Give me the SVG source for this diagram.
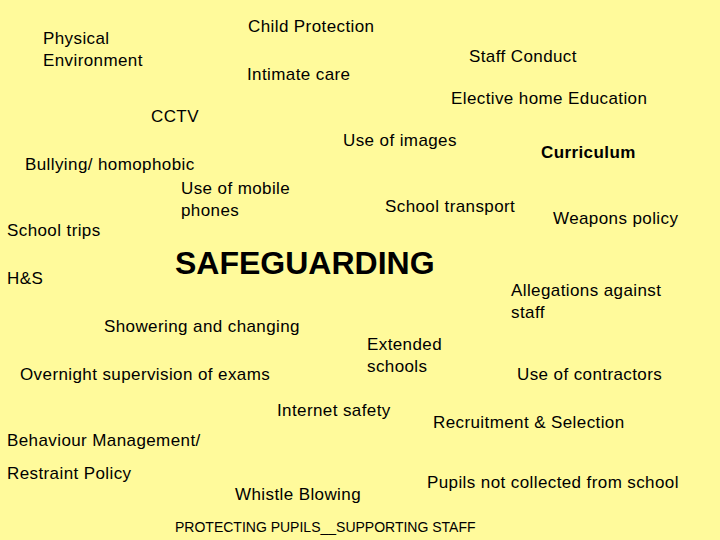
<svg xmlns="http://www.w3.org/2000/svg" width="720" height="540" viewBox="0 0 720 540">
<style>
text{font-family:"Liberation Sans",Arial,sans-serif;font-size:17px;letter-spacing:0.4px;fill:#000}
.b{font-weight:bold}
.title{font-size:32px;font-weight:bold;letter-spacing:0}
.foot{font-size:14px;letter-spacing:0}
</style>
<rect width="720" height="540" fill="#FFFA9B"/>
<g id="labels">
<text x="248" y="32">Child Protection</text>
<text x="43" y="44">Physical</text>
<text x="43" y="66">Environment</text>
<text x="469" y="62">Staff Conduct</text>
<text x="247" y="80">Intimate care</text>
<text x="451" y="104">Elective home Education</text>
<text x="151" y="122">CCTV</text>
<text x="343" y="146">Use of images</text>
<text x="541" y="158" class="b">Curriculum</text>
<text x="25" y="170">Bullying/ homophobic</text>
<text x="181" y="194">Use of mobile</text>
<text x="181" y="216">phones</text>
<text x="385" y="212">School transport</text>
<text x="553" y="224">Weapons policy</text>
<text x="7" y="236">School trips</text>
<text x="175" y="274" class="title">SAFEGUARDING</text>
<text x="7" y="284">H&amp;S</text>
<text x="511" y="296">Allegations against</text>
<text x="511" y="318">staff</text>
<text x="104" y="332">Showering and changing</text>
<text x="367" y="350">Extended</text>
<text x="367" y="372">schools</text>
<text x="20" y="380">Overnight supervision of exams</text>
<text x="517" y="380">Use of contractors</text>
<text x="277" y="416">Internet safety</text>
<text x="433" y="428">Recruitment &amp; Selection</text>
<text x="7" y="446">Behaviour Management/</text>
<text x="7" y="479">Restraint Policy</text>
<text x="235" y="500">Whistle Blowing</text>
<text x="427" y="488">Pupils not collected from school</text>
<text x="175" y="532" class="foot">PROTECTING PUPILS__SUPPORTING STAFF</text>
</g>
</svg>
